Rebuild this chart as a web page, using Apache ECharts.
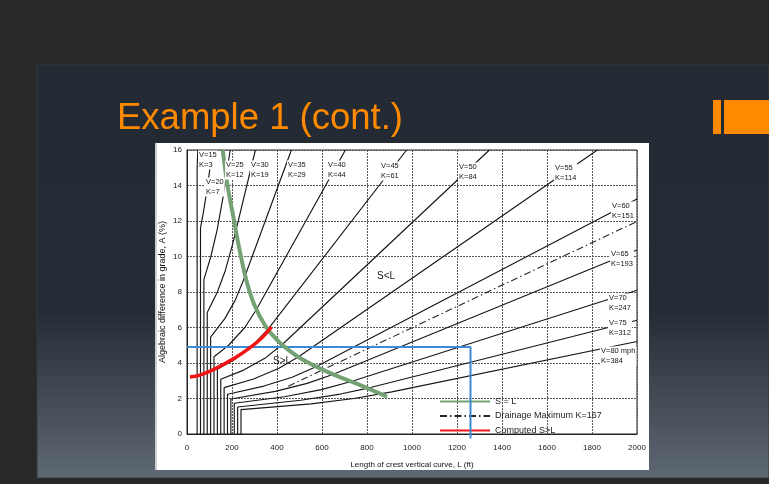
<!DOCTYPE html>
<html><head><meta charset="utf-8">
<script src="https://cdn.jsdelivr.net/npm/echarts@6/dist/echarts.min.js"></script>
<style>html,body{margin:0;padding:0;background:#282828;}#c{width:769px;height:484px;}</style>
</head><body><div id="c"></div>
<script>
// Design speeds (mph) and rate of vertical curvature K of each stopping-sight-distance curve
const speeds = [15, 20, 25, 30, 35, 40, 45, 50, 55, 60, 65, 70, 75, 80];
const kValues = [3, 7, 12, 19, 29, 44, 61, 84, 114, 151, 193, 247, 312, 384];
// Lower part of each curve: minimum-length leg, then the S>L bend, as [L (ft), A (%)]
const bendPoints = [
  [[45, 0], [45, 15]],
  [[60, 0], [60, 11.6], [73, 12.5], [92, 14]],
  [[75, 0], [75, 8.7], [106, 10], [134, 11.5], [161, 13.4]],
  [[90, 0], [90, 6.85], [135, 8], [170, 9.2], [202, 10.66]],
  [[105, 0], [105, 5.46], [168, 6.5], [213, 7.5], [250, 8.63]],
  [[120, 0], [120, 4.35], [185, 5], [257, 6], [308, 7.0]],
  [[135, 0], [135, 3.65], [212, 4.2], [294, 5], [363, 5.95]],
  [[150, 0], [150, 3.08], [252, 3.6], [350, 4.3], [426, 5.07]],
  [[165, 0], [165, 2.61], [296, 3.1], [409, 3.7], [496, 4.35]],
  [[180, 0], [180, 2.24], [342, 2.7], [467, 3.2], [571, 3.78]],
  [[195, 0], [195, 1.97], [392, 2.4], [534, 2.85], [645, 3.34]],
  [[210, 0], [210, 1.73], [433, 2.1], [597, 2.5], [730, 2.96]],
  [[225, 0], [225, 1.52], [505, 1.9], [682, 2.25], [820, 2.63]],
  [[240, 0], [240, 1.37], [551, 1.7], [742, 2.0], [910, 2.37]]
];
// Drainage maximum line
const drainageK = 167;
const drainageL = [450, 2000];
// S = L boundary
const sEqL_L = [159, 180, 205, 230, 265, 300, 350, 400, 430, 500, 590, 680, 770, 889];
const sEqL_A = [16, 14, 12.3, 10.6, 8.6, 7.25, 6.05, 5.3, 4.95, 4.3, 3.7, 3.2, 2.75, 2.1];
// Computed S>L curve
const computedL = [13, 58, 115, 212, 279, 332, 376];
const computedA = [3.21, 3.32, 3.61, 4.28, 4.85, 5.41, 6.03];
// Design point read-off (A = 4.9 %, L = 1260 ft)
const designA = 4.9;
const designL = 1260;
// Axis ranges and ticks
const xMax = 2000, xStep = 200;
const yMax = 16, yStep = 2;

const FONT = '"Liberation Sans", Arial, sans-serif';
const chart = echarts.init(document.getElementById('c'), null, {renderer: 'canvas', width: 769, height: 484});

function lineSeries(name, data, color, width, extra) {
  return Object.assign({
    type: 'line', name: name, data: data, symbol: 'none',
    itemStyle: {color: color}, lineStyle: {color: color, width: width}
  }, extra || {});
}

const series = [];
speeds.forEach((v, i) => {
  const k = kValues[i];
  const end = k * yMax <= xMax ? [k * yMax, yMax] : [xMax, xMax / k];
  series.push(lineSeries('V=' + v, bendPoints[i].concat([end]), '#161616', 1.15, {silent: true, z: 3}));
});
series.push(lineSeries('Drainage Maximum K=167', drainageL.map(l => [l, l / drainageK]), '#262626', 1.1, {z: 3}));
series[series.length - 1].lineStyle.type = [7, 3, 1.5, 3];
series.push(lineSeries('S = L', sEqL_L.map((l, i) => [l, sEqL_A[i]]), '#74a274', 4, {smooth: 0.35, z: 5}));
series.push(lineSeries('Computed S>L', computedL.map((l, i) => [l, computedA[i]]), '#f21414', 3.5, {smooth: 0.4, z: 6}));
series.push(lineSeries('design', [[0, designA], [designL, designA], [designL, -0.25]], '#3c8ad3', 2, {clip: false, z: 4}));

// Speed / K labels along the top and right side of the chart (pixel layout)
const labelLayout = [
  [198, 155], [205, 182], [225, 165], [250, 165], [287, 165], [327, 165], [380, 166],
  [458, 167], [554, 168], [611, 206], [610, 254], [608, 298], [608, 323], [600, 351]
];
const speedLabels = speeds.map((v, i) => ({
  type: 'text', z: 20,
  x: labelLayout[i][0], y: labelLayout[i][1] - 4.5,
  style: {
    text: 'V=' + v + (v === 80 ? ' mph' : '') + '\nK=' + kValues[i],
    font: '7.5px ' + FONT, fill: '#161616', lineHeight: 9.5,
    verticalAlign: 'top', align: 'left',
    backgroundColor: '#fff', padding: [0, 1]
  }
}));

const option = {
  backgroundColor: '#282828',
  animation: false,
  graphic: [
    {type: 'rect', z: -10, shape: {x: 37, y: 65, width: 732, height: 413},
      style: {fill: {type: 'linear', x: 0, y: 0, x2: 0, y2: 1, colorStops: [
        {offset: 0, color: '#232a33'}, {offset: 0.6, color: '#252c35'}, {offset: 1, color: '#5f6973'}]},
        stroke: '#34383d', lineWidth: 1}},
    {type: 'rect', z: -9, shape: {x: 155, y: 143, width: 494, height: 327}, style: {fill: '#ffffff'}},
    {type: 'rect', z: -8, shape: {x: 155, y: 143, width: 2, height: 327}, style: {fill: '#cfcfcf'}},
    {type: 'rect', z: -8, shape: {x: 713, y: 100, width: 8, height: 34}, style: {fill: '#ff8a00'}},
    {type: 'rect', z: -8, shape: {x: 724, y: 100, width: 45, height: 34}, style: {fill: '#ff8a00'}},
    {type: 'text', z: 10, x: 117, y: 119,
      style: {text: 'Example 1 (cont.)', font: '36.5px ' + FONT, fill: '#ff8a00', verticalAlign: 'middle'}},
    {type: 'text', z: 20, x: 376, y: 271,
      style: {text: 'S<L', font: '10px ' + FONT, fill: '#1a1a1a', backgroundColor: '#fff', padding: [0, 1]}},
    {type: 'text', z: 20, x: 273, y: 356,
      style: {text: 'S>L', font: '10px ' + FONT, fill: '#1a1a1a'}}
  ].concat(speedLabels),
  grid: {left: 187, right: 132, top: 150, bottom: 50, show: true, borderColor: '#222', borderWidth: 1},
  legend: {
    data: ['S = L', 'Drainage Maximum K=167', 'Computed S>L'],
    orient: 'vertical', left: 434, top: 392,
    itemWidth: 50, itemHeight: 10, itemGap: 5.5, selectedMode: false,
    itemStyle: {opacity: 0},
    textStyle: {fontSize: 9, color: '#1e1e1e', fontFamily: FONT}
  },
  xAxis: {
    type: 'value', min: 0, max: xMax, interval: xStep,
    name: 'Length of crest vertical curve, L (ft)', nameLocation: 'middle', nameGap: 27,
    nameMoveOverlap: false,
    nameTextStyle: {fontSize: 8, color: '#111', fontFamily: FONT},
    axisLine: {lineStyle: {color: '#222', width: 1}},
    axisTick: {show: false},
    axisLabel: {fontSize: 8, color: '#1a1a1a', margin: 10, fontFamily: FONT, formatter: v => String(v)},
    splitLine: {show: true, lineStyle: {color: '#585858', width: 1, type: [2, 1]}}
  },
  yAxis: {
    type: 'value', min: 0, max: yMax, interval: yStep,
    name: 'Algebraic difference in grade, A (%)', nameLocation: 'middle', nameGap: 20, nameRotate: 90,
    nameMoveOverlap: false,
    nameTextStyle: {fontSize: 9, color: '#111', fontFamily: FONT},
    axisLine: {show: true, lineStyle: {color: '#222', width: 1}},
    axisTick: {show: false},
    axisLabel: {fontSize: 8, color: '#1a1a1a', margin: 5, fontFamily: FONT},
    splitLine: {show: true, lineStyle: {color: '#585858', width: 1, type: [2, 1]}}
  },
  series: series
};
chart.setOption(option);
</script>
</body></html>
